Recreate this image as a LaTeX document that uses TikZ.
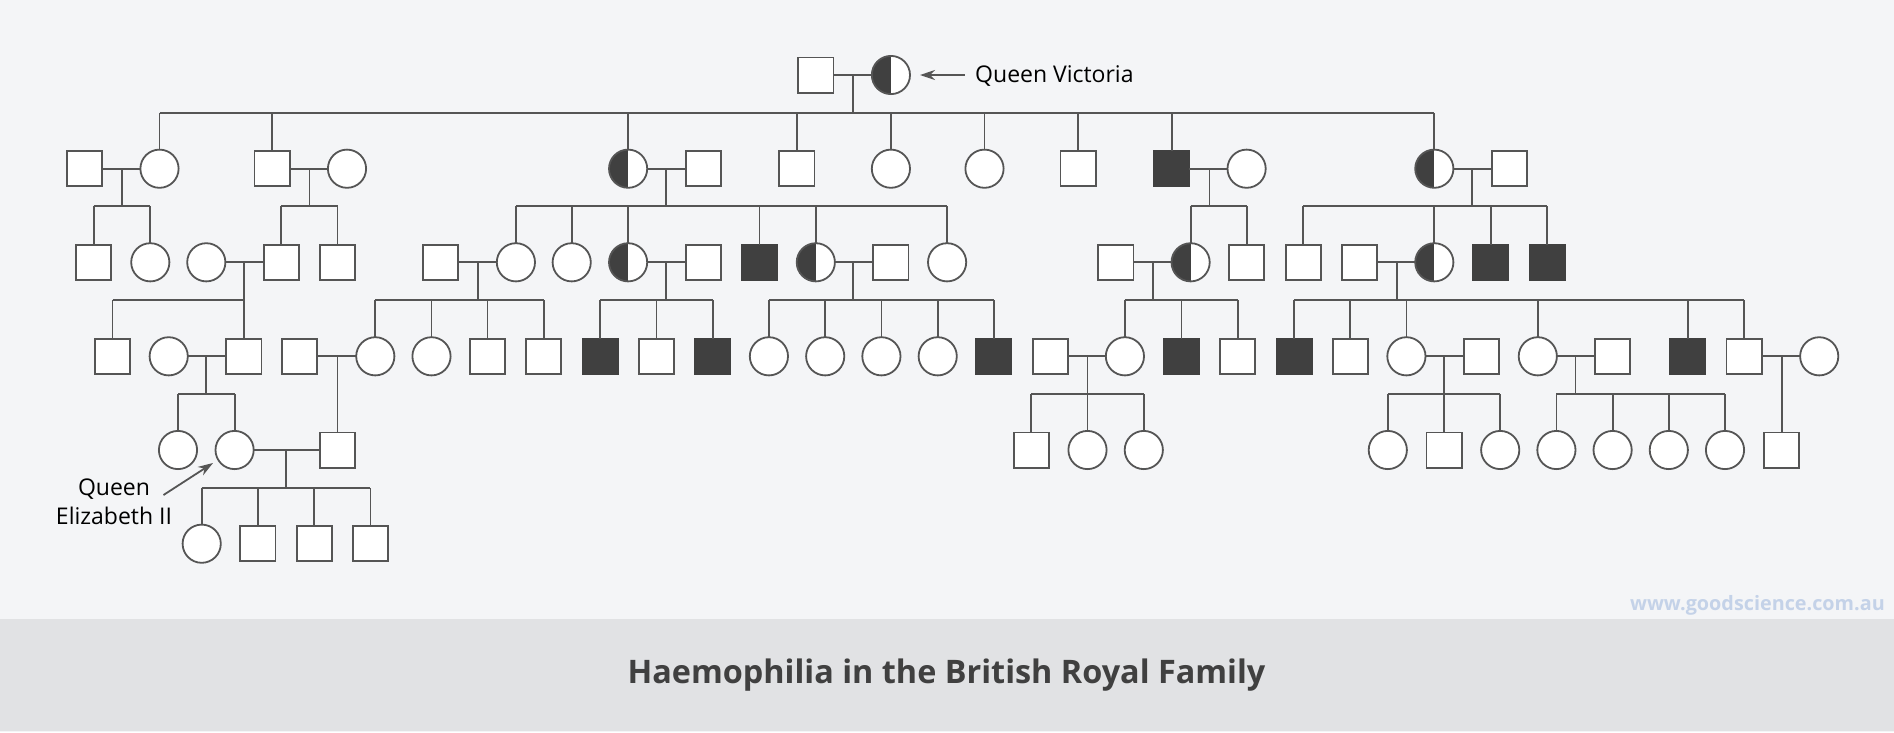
\documentclass[tikz,border=0pt]{standalone}
\usepackage{fontspec}
\setmainfont{Open Sans}
\usetikzlibrary{calc,arrows.meta}
\definecolor{bgc}{HTML}{F4F5F7}
\definecolor{bandc}{HTML}{E1E2E4}
\definecolor{ink}{HTML}{404040}
\definecolor{wline}{HTML}{555555}
\definecolor{wmark}{HTML}{C4D2E8}
\tikzset{
  sq/.style={draw=wline,fill=white,line width=1.8pt,rectangle,minimum size=35.2pt,inner sep=0pt,outer sep=0pt},
  ci/.style={draw=wline,fill=white,line width=1.8pt,circle,minimum size=38.2pt,inner sep=0pt,outer sep=0pt},
  af/.style={sq,fill=ink,draw=ink},
  hc/.style={ci,path picture={\fill[ink] (path picture bounding box.south west) rectangle (path picture bounding box.north);}},
  link/.style={draw=wline,line width=1.8pt},
  label/.style={inner sep=0pt,font=\fontsize{23}{28}\selectfont,text=black},
  pointer/.style={draw=wline,line width=1.8pt,-{Stealth[length=15pt,width=10pt]}}
}
\newcommand{\kids}[3]{% stem coordinate, bar coordinate, list of children
  \draw[link] (#1) -- (#2);
  \foreach \c in {#3} {\draw[link] (\c.north) -- (\c.north |- #2);}
}
\newcommand{\barline}[3]{\draw[link] (#2.north |- #1) -- (#3.north |- #1);}
\begin{document}
\begin{tikzpicture}[x=1pt,y=-1pt]
\useasboundingbox (0,0) rectangle (1894,732);
\fill[bgc] (0,0) rectangle (1894,732);
\fill[bandc] (0,619) rectangle (1894,731);
% generation 0
\node[sq] (albert) at (815.8,75) {};
\node[hc] (victoria) at (890.9,75) {};
% generation 1
\node[sq] (a1) at (84.6,168.7) {};
\node[ci] (a2) at (159.5,168.7) {};
\node[sq] (b1) at (272,168.7) {};
\node[ci] (b2) at (347,168.7) {};
\node[hc] (c1) at (628.1,168.7) {};
\node[sq] (c2) at (703.5,168.7) {};
\node[sq] (d) at (796.9,168.7) {};
\node[ci] (e) at (890.9,168.7) {};
\node[ci] (f) at (984.5,168.7) {};
\node[sq] (g) at (1078.1,168.7) {};
\node[af] (h1) at (1171.7,168.7) {};
\node[ci] (h2) at (1246.6,168.7) {};
\node[hc] (i1) at (1434.3,168.7) {};
\node[sq] (i2) at (1509.5,168.7) {};
% generation 2
\node[sq] (r2a) at (93.6,262.3) {};
\node[ci] (r2b) at (150.3,262.3) {};
\node[ci] (r2c) at (206.3,262.3) {};
\node[sq] (r2d) at (281.2,262.3) {};
\node[sq] (r2e) at (337.5,262.3) {};
\node[sq] (r2f) at (440.7,262.3) {};
\node[ci] (r2g) at (515.9,262.3) {};
\node[ci] (r2h) at (571.7,262.3) {};
\node[hc] (r2i) at (628.1,262.3) {};
\node[sq] (r2j) at (703.3,262.3) {};
\node[af] (r2k) at (759.5,262.3) {};
\node[hc] (r2l) at (815.8,262.3) {};
\node[sq] (r2m) at (890.9,262.3) {};
\node[ci] (r2n) at (947.1,262.3) {};
\node[sq] (r2o) at (1115.9,262.3) {};
\node[hc] (r2p) at (1190.6,262.3) {};
\node[sq] (r2q) at (1246.6,262.3) {};
\node[sq] (r2r) at (1303.3,262.3) {};
\node[sq] (r2s) at (1359.5,262.3) {};
\node[hc] (r2t) at (1434.3,262.3) {};
\node[af] (r2u) at (1490.9,262.3) {};
\node[af] (r2v) at (1547.1,262.3) {};
% generation 3
\node[sq] (r3a) at (112.5,356.3) {};
\node[ci] (r3b) at (168.7,356.3) {};
\node[sq] (r3c) at (243.9,356.3) {};
\node[sq] (r3d) at (299.7,356.3) {};
\node[ci] (r3e) at (375.3,356.3) {};
\node[ci] (r3f) at (431.5,356.3) {};
\node[sq] (r3g) at (487.4,356.3) {};
\node[sq] (r3h) at (543.6,356.3) {};
\node[af] (r3i) at (600.2,356.3) {};
\node[sq] (r3j) at (656.4,356.3) {};
\node[af] (r3k) at (712.7,356.3) {};
\node[ci] (r3l) at (768.9,356.3) {};
\node[ci] (r3m) at (825.2,356.3) {};
\node[ci] (r3n) at (881.4,356.3) {};
\node[ci] (r3o) at (937.7,356.3) {};
\node[af] (r3p) at (993.9,356.3) {};
\node[sq] (r3q) at (1050.2,356.3) {};
\node[ci] (r3r) at (1124.9,356.3) {};
\node[af] (r3s) at (1181.5,356.3) {};
\node[sq] (r3t) at (1237.6,356.3) {};
\node[af] (r3u) at (1294,356.3) {};
\node[sq] (r3v) at (1350.2,356.3) {};
\node[ci] (r3w) at (1406.4,356.3) {};
\node[sq] (r3x) at (1481.2,356.3) {};
\node[ci] (r3y) at (1537.8,356.3) {};
\node[sq] (r3z) at (1612.6,356.3) {};
\node[af] (r3aa) at (1687.8,356.3) {};
\node[sq] (r3ab) at (1744,356.3) {};
\node[ci] (r3ac) at (1819.2,356.3) {};
% generation 4
\node[ci] (r4a) at (178,450) {};
\node[ci] (r4b) at (234.6,450) {};
\node[sq] (r4c) at (337.5,450) {};
\node[sq] (r4d) at (1031.3,450) {};
\node[ci] (r4e) at (1087.5,450) {};
\node[ci] (r4f) at (1143.8,450) {};
\node[ci] (r4g) at (1387.8,450) {};
\node[sq] (r4h) at (1444,450) {};
\node[ci] (r4i) at (1500.2,450) {};
\node[ci] (r4j) at (1556.4,450) {};
\node[ci] (r4k) at (1612.6,450) {};
\node[ci] (r4l) at (1668.8,450) {};
\node[ci] (r4m) at (1725,450) {};
\node[sq] (r4n) at (1781.6,450) {};
% generation 5
\node[ci] (r5a) at (201.7,543.7) {};
\node[sq] (r5b) at (257.9,543.7) {};
\node[sq] (r5c) at (314.2,543.7) {};
\node[sq] (r5d) at (370.4,543.7) {};
% stems and bars
\coordinate (s0) at (853.1,75);       \coordinate (b0) at (853.1,112.7);
\coordinate (s1) at (121.7,168.7);    \coordinate (b1x) at (121.7,206);
\coordinate (s2) at (309.4,168.7);    \coordinate (b2x) at (309.4,206);
\coordinate (s3) at (665.9,168.7);    \coordinate (b3x) at (665.9,206);
\coordinate (s4) at (1209.5,168.7);   \coordinate (b4x) at (1209.5,206);
\coordinate (s5) at (1471.9,168.7);   \coordinate (b5x) at (1471.9,206);
\coordinate (s6) at (243.9,262.3);    \coordinate (b6x) at (243.9,300);
\coordinate (s7) at (478,262.3);      \coordinate (b7x) at (478,300);
\coordinate (s8) at (665.9,262.3);    \coordinate (b8x) at (665.9,300);
\coordinate (s9) at (853.1,262.3);    \coordinate (b9x) at (853.1,300);
\coordinate (s10) at (1153.2,262.3);  \coordinate (b10x) at (1153.2,300);
\coordinate (s11) at (1397.1,262.3);  \coordinate (b11x) at (1397.1,300);
\coordinate (s12) at (206.1,356.3);   \coordinate (b12x) at (206.1,393.7);
\coordinate (s13) at (337.5,356.3);
\coordinate (s14) at (1087.5,356.3);  \coordinate (b14x) at (1087.5,393.7);
\coordinate (s15) at (1444,356.3);    \coordinate (b15x) at (1444,393.7);
\coordinate (s16) at (1575.4,356.3);  \coordinate (b16x) at (1575.4,393.7);
\coordinate (s17) at (1781.6,356.3);
\coordinate (s18) at (286,450);       \coordinate (b18x) at (286,487.7);
% couples
\foreach \p/\q in {albert/victoria,a1/a2,b1/b2,c1/c2,h1/h2,i1/i2,r2c/r2d,r2f/r2g,r2i/r2j,r2l/r2m,r2o/r2p,r2s/r2t,r3b/r3c,r3d/r3e,r3q/r3r,r3w/r3x,r3y/r3z,r3ab/r3ac,r4b/r4c}
  {\draw[link] (\p.east) -- (\q.west);}
% families
\barline{b0}{a2}{i1}
\kids{s0}{b0}{a2,b1,c1,d,e,f,g,h1,i1}
\barline{b1x}{r2a}{r2b}
\kids{s1}{b1x}{r2a,r2b}
\barline{b2x}{r2d}{r2e}
\kids{s2}{b2x}{r2d,r2e}
\barline{b3x}{r2g}{r2n}
\kids{s3}{b3x}{r2g,r2h,r2i,r2k,r2l,r2n}
\barline{b4x}{r2p}{r2q}
\kids{s4}{b4x}{r2p,r2q}
\barline{b5x}{r2r}{r2v}
\kids{s5}{b5x}{r2r,r2t,r2u,r2v}
\barline{b6x}{r3a}{r3c}
\kids{s6}{b6x}{r3a,r3c}
\barline{b7x}{r3e}{r3h}
\kids{s7}{b7x}{r3e,r3f,r3g,r3h}
\barline{b8x}{r3i}{r3k}
\kids{s8}{b8x}{r3i,r3j,r3k}
\barline{b9x}{r3l}{r3p}
\kids{s9}{b9x}{r3l,r3m,r3n,r3o,r3p}
\barline{b10x}{r3r}{r3t}
\kids{s10}{b10x}{r3r,r3s,r3t}
\barline{b11x}{r3u}{r3ab}
\kids{s11}{b11x}{r3u,r3v,r3w,r3y,r3aa,r3ab}
\barline{b12x}{r4a}{r4b}
\kids{s12}{b12x}{r4a,r4b}
\draw[link] (s13) -- (r4c.north);
\barline{b14x}{r4d}{r4f}
\kids{s14}{b14x}{r4d,r4e,r4f}
\barline{b15x}{r4g}{r4i}
\kids{s15}{b15x}{r4g,r4h,r4i}
\barline{b16x}{r4j}{r4m}
\kids{s16}{b16x}{r4j,r4k,r4l,r4m}
\draw[link] (s17) -- (r4n.north);
\barline{b18x}{r5a}{r5d}
\kids{s18}{b18x}{r5a,r5b,r5c,r5d}
% labels
\node[label,anchor=west] (qv) at (975,76.5) {Queen Victoria};
\coordinate (qvtip) at (920,75);
\draw[pointer] (964.8,75) -- (qvtip);
\node[label,anchor=center] (qe1) at (114,489) {Queen};
\node[label,anchor=center] (qe2) at (114,516) {Elizabeth II};
\coordinate (qetail) at (163.5,495);
\coordinate (qetip) at (213,463);
\draw[pointer] (qetail) -- (qetip);
\node[inner sep=0pt,font=\fontsize{19.8}{24}\selectfont\bfseries,text=wmark,anchor=east] (wm) at (1885,605) {www.goodscience.com.au};
\node[inner sep=0pt,font=\fontsize{32.4}{40}\selectfont\bfseries,text=ink,anchor=center] (title) at (946.5,675.5) {Haemophilia in the British Royal Family};
\end{tikzpicture}
\end{document}
